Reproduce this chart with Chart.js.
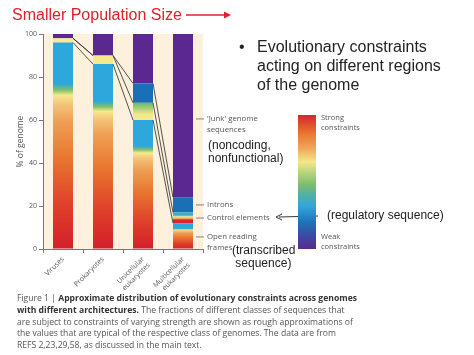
<!DOCTYPE html>
<html><head><meta charset="utf-8">
<script src="https://cdn.jsdelivr.net/npm/chart.js@4/dist/chart.umd.min.js"></script>
<style>
html,body{margin:0;padding:0;background:#fff;}
#wrap{position:relative;width:474px;height:355px;overflow:hidden;background:#fff;}
#c{position:absolute;left:0;top:0;}
.t{position:absolute;white-space:nowrap;}
.ar{font-family:"Liberation Sans",Arial,sans-serif;}
.fig{font-family:"Open Sans",sans-serif;color:#555;}
#cbar{position:absolute;left:298px;top:115px;width:18px;height:134px;
 background:linear-gradient(to bottom,#d7262b 0%,#e8782f 14%,#f0a75c 25%,#f5e68a 35%,#b8d47e 43%,#7dbd6c 52%,#4fb0a8 60%,#33a6da 68%,#1e73b9 80%,#3b4aa3 90%,#5b2a8f 100%);}
</style></head><body>
<div id="wrap">
<canvas id="c" width="474" height="355"></canvas>

<div class="t ar" style="left:12px;top:5px;font-size:16px;line-height:20px;color:#e2202b;">Smaller Population Size</div>
<svg class="t" style="left:0;top:0" width="474" height="355">
  <line x1="186" y1="15" x2="226" y2="15" stroke="#e2202b" stroke-width="1.6"/>
  <polygon points="231,15 224,11.5 224,18.5" fill="#e2202b"/>
  <line x1="318" y1="216" x2="279" y2="217" stroke="#222" stroke-width="0.9"/>
  <polyline points="282,214 276,217 282,220" fill="none" stroke="#222" stroke-width="0.9"/>
</svg>

<div class="t ar" style="left:239px;top:37px;font-size:16px;line-height:19px;color:#222;">•</div>
<div class="t ar" style="left:257px;top:37px;font-size:16px;line-height:19px;color:#222;">Evolutionary constraints<br>acting on different regions<br>of the genome</div>

<div class="t ar" style="left:208px;top:139px;font-size:12px;line-height:13px;color:#222;">(noncoding,<br>nonfunctional)</div>
<div class="t ar" style="left:232px;top:244px;font-size:12px;line-height:13px;color:#222;">(transcribed<br>&nbsp;sequence)</div>
<div class="t ar" style="left:327px;top:208px;font-size:12px;line-height:14px;color:#222;">(regulatory sequence)</div>

<div id="cbar"></div>
<div class="t fig" style="left:321px;top:112px;font-size:7.5px;line-height:10px;">Strong<br>constraints</div>
<div class="t fig" style="left:321px;top:231px;font-size:7.5px;line-height:10px;">Weak<br>constraints</div>

<div class="t fig" style="left:17px;top:293px;font-size:8.6px;line-height:11.8px;">Figure 1 | <b style="color:#333">Approximate distribution of evolutionary constraints across genomes</b><br><b style="color:#333">with different architectures.</b> The fractions of different classes of sequences that<br>are subject to constraints of varying strength are shown as rough approximations of<br>the values that are typical of the respective class of genomes. The data are from<br>REFS 2,23,29,58, as discussed in the main text.</div>
</div>

<script>
// ---- data ----
const categories = [['Viruses'], ['Prokaryotes'], ['Unicellular', 'eukaryotes'], ['Multicellular', 'eukaryotes']];
const openReadingFrames = [96, 86, 60, 12];
const controlElements = [2, 4, 8, 5];
const introns = [0, 0, 9, 7];
const junkSequences = [2, 10, 23, 76];
const yTicks = [0, 20, 40, 60, 80, 100];
const sideLabels = [
  {lines: ["'Junk' genome", 'sequences'], at: 60.5},
  {lines: ['Introns'], at: 20.5},
  {lines: ['Control elements'], at: 14.4},
  {lines: ['Open reading', 'frames'], at: 5.6}
];

// ---- styles ----
const orfStops = [[0,'#d41f2b'],[0.2,'#de3e2a'],[0.45,'#e9782f'],[0.62,'#efa055'],[0.7,'#f4c27a'],[0.745,'#f7e88c'],[0.77,'#7fc06c'],[0.8,'#2ea7dc'],[1,'#2ea7dc']];
const controlStops = [
  [[0,'#f8eb94'],[1,'#f8eb94']],
  [[0,'#f7e88c'],[1,'#f7e88c']],
  [[0,'#f7e88c'],[0.35,'#f0e68a'],[0.6,'#b5d57d'],[1,'#6db86d']],
  [[0,'#d9262c'],[0.3,'#d9262c'],[0.45,'#f3b060'],[0.6,'#f7e88c'],[0.75,'#3aa9d9'],[1,'#3aa9d9']]
];
const intronColor = '#1b6fb6';
const junkColor = '#5b2791';
const figFont = 'Open Sans';

function gradFill(dsIndex, stopsFor, fallback) {
  return (ctx) => {
    const chart = ctx.chart;
    if (!chart.chartArea || !chart.scales.y) return fallback;
    const i = ctx.dataIndex;
    let base = 0;
    for (let d = 0; d < dsIndex; d++) base += chart.data.datasets[d].data[i];
    const top = base + chart.data.datasets[dsIndex].data[i];
    const y0 = chart.scales.y.getPixelForValue(base);
    const y1 = chart.scales.y.getPixelForValue(top);
    if (Math.abs(y0 - y1) < 0.01) return fallback;
    const g = chart.ctx.createLinearGradient(0, y0, 0, y1);
    stopsFor(i).forEach(s => g.addColorStop(s[0], s[1]));
    return g;
  };
}

const bgPlugin = {
  id: 'bg',
  beforeDraw(chart) {
    const a = chart.chartArea, c = chart.ctx;
    c.save(); c.fillStyle = '#fdf0dc'; c.fillRect(a.left, a.top, a.right - a.left, a.bottom - a.top); c.restore();
  }
};

const linkPlugin = {
  id: 'links',
  afterDatasetsDraw(chart) {
    const c = chart.ctx, ys = chart.scales.y, ds = chart.data.datasets;
    const metas = ds.map((d, k) => chart.getDatasetMeta(k));
    c.save(); c.strokeStyle = '#2a2a2a'; c.lineWidth = 0.8;
    for (let i = 0; i < categories.length - 1; i++) {
      for (let k = 1; k < ds.length; k++) {
        let v1 = 0, v2 = 0;
        for (let d = 0; d < k; d++) { v1 += ds[d].data[i]; v2 += ds[d].data[i + 1]; }
        const b1 = metas[0].data[i], b2 = metas[0].data[i + 1];
        c.beginPath();
        c.moveTo(b1.x + b1.width / 2, ys.getPixelForValue(v1));
        c.lineTo(b2.x - b2.width / 2, ys.getPixelForValue(v2));
        c.stroke();
      }
    }
    c.restore();
  }
};

const sidePlugin = {
  id: 'side',
  afterDraw(chart) {
    const c = chart.ctx, ys = chart.scales.y, a = chart.chartArea;
    c.save();
    c.strokeStyle = '#666'; c.lineWidth = 0.8;
    c.fillStyle = '#555'; c.font = '7.8px "' + figFont + '"'; c.textBaseline = 'middle';
    sideLabels.forEach(l => {
      const y = ys.getPixelForValue(l.at);
      c.beginPath(); c.moveTo(a.right - 7, y); c.lineTo(a.right + 1, y); c.stroke();
      l.lines.forEach((t, j) => c.fillText(t, a.right + 4, y + j * 10.5));
    });
    c.restore();
  }
};

new Chart(document.getElementById('c'), {
  type: 'bar',
  data: {
    labels: categories,
    datasets: [
      {label: 'Open reading frames', data: openReadingFrames, backgroundColor: gradFill(0, () => orfStops, '#e9782f')},
      {label: 'Control elements', data: controlElements, backgroundColor: gradFill(1, i => controlStops[i], '#f7e88c')},
      {label: 'Introns', data: introns, backgroundColor: intronColor},
      {label: "'Junk' genome sequences", data: junkSequences, backgroundColor: junkColor}
    ]
  },
  options: {
    responsive: false,
    animation: false,
    layout: {padding: {top: 34, right: 271, left: 0, bottom: 0}},
    datasets: {bar: {categoryPercentage: 1, barPercentage: 0.5, borderWidth: 0}},
    plugins: {legend: {display: false}, tooltip: {enabled: false}},
    scales: {
      x: {
        stacked: true,
        grid: {offset: true, drawOnChartArea: false, drawTicks: true, tickLength: 4, color: '#777'},
        border: {display: true, color: '#777'},
        ticks: {maxRotation: 45, minRotation: 45, padding: 2, color: '#555', font: {family: figFont, size: 7}},
        afterFit(s) { s.height = 355 - 249; }
      },
      y: {
        stacked: true, min: 0, max: 100,
        afterBuildTicks(s) { s.ticks = yTicks.map(v => ({value: v})); },
        grid: {drawOnChartArea: false, drawTicks: true, tickLength: 4, color: '#777'},
        border: {display: true, color: '#777'},
        ticks: {padding: 2, color: '#555', font: {family: figFont, size: 7}},
        title: {display: true, text: '% of genome', color: '#555', font: {family: figFont, size: 8.5}, padding: {top: 15, bottom: 0}},
        afterFit(s) { s.width = 43; }
      }
    }
  },
  plugins: [bgPlugin, linkPlugin, sidePlugin]
});
</script>
</body></html>
